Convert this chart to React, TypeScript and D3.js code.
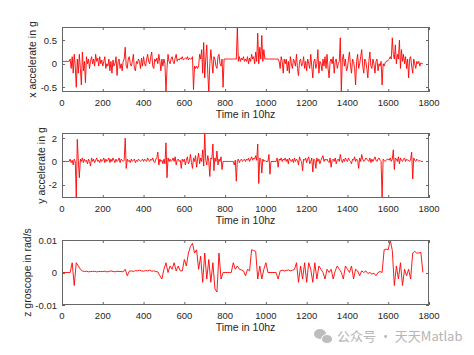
import React from "react";
import * as d3 from "d3";

const xTicks = [0, 200, 400, 600, 800, 1000, 1200, 1400, 1600, 1800];

// x acceleration, sampled every 5 time units from 0
const xAccel = [
  0.05, 0.05, 0.05, 0.05, 0.05, 0.05, 0.05, 0.05, 0.1, -0.1, 0.15, -0.2, 0.2, -0.05, -0.5, 0.1, -0.2, 0.2, -0.1, -0.45,
  0.25, -0.15, 0.05, -0.4, 0.15, 0.0, 0.1, -0.1, 0.05, 0.15, 0.0, 0.1, -0.05, 0.2, 0.05, 0.12, -0.05, 0.15, 0.0, 0.08,
  -0.05, 0.05, 0.15, -0.1, 0.0, -0.05, 0.1, -0.15, 0.05, -0.2, 0.08, -0.05, 0.0, 0.15, -0.25, 0.05, 0.1, -0.1, 0.0, -0.15,
  0.05, 0.1, 0.35, -0.05, -0.1, 0.1, 0.15, 0.0, -0.05, 0.05, 0.2, -0.1, -0.15, 0.05, 0.0, 0.1, 0.05, -0.1, 0.12, -0.05,
  0.15, 0.0, -0.05, 0.1, 0.2, 0.05, 0.0, 0.15, 0.25, -0.05, -0.1, 0.1, 0.05, 0.12, 0.0, 0.2, 0.05, -0.15, 0.1, -0.05,
  0.1, 0.0, -0.6, -0.1, 0.2, 0.05, 0.0, 0.1, 0.15, 0.05, 0.0, 0.12, 0.2, 0.05, 0.1, 0.08, 0.12, 0.1, 0.15, 0.08,
  0.1, 0.12, 0.1, 0.15, 0.08, 0.12, 0.1, 0.1, 0.15, -0.55, -0.05, -0.1, -0.05, -0.1, -0.05, 0.2, 0.1, 0.3, -0.2, 0.45,
  -0.3, 0.1, 0.4, -0.2, -0.6, 0.0, 0.3, 0.05, -0.2, 0.15, 0.1, -0.05, -0.1, 0.15, 0.2, 0.0, -0.05, 0.1, -0.5, 0.1,
  0.1, 0.1, 0.1, 0.1, 0.1, 0.1, 0.1, 0.1, 0.1, 0.1, 0.1, 0.1, 0.8, 0.05, 0.15, 0.05, 0.12, 0.08, 0.15, 0.05,
  0.1, 0.05, 0.15, 0.0, 0.12, 0.05, 0.2, 0.1, 0.15, 0.0, 0.25, 0.05, 0.65, 0.0, 0.35, 0.1, 0.6, 0.05, 0.3, 0.1,
  0.1, 0.1, 0.1, 0.1, 0.1, 0.1, 0.1, 0.1, 0.1, 0.1, 0.1, 0.1, 0.1, 0.05, -0.1, 0.15, 0.05, -0.2, 0.1, 0.0,
  0.1, -0.15, 0.05, -0.2, 0.15, 0.0, -0.1, 0.1, 0.05, -0.05, 0.2, -0.1, -0.25, 0.05, 0.1, -0.05, 0.0, 0.15, -0.1, 0.05,
  -0.15, 0.1, 0.0, -0.1, 0.2, -0.05, -0.3, 0.05, 0.1, -0.1, 0.0, 0.3, -0.2, 0.05, 0.0, -0.15, 0.1, -0.05, 0.15, -0.1,
  0.2, -0.1, -0.3, 0.05, 0.1, 0.0, 0.15, -0.2, 0.05, 0.1, -0.1, 0.0, 0.05, 0.55, -0.6, 0.1, 0.2, -0.05, 0.1, -0.15,
  -0.1, 0.1, 0.25, -0.05, -0.2, 0.1, 0.05, -0.1, -0.45, 0.05, 0.2, -0.1, 0.0, 0.15, 0.3, -0.05, -0.2, 0.1, 0.05, -0.1,
  -0.3, 0.05, 0.25, -0.05, -0.1, 0.1, 0.0, -0.2, 0.05, 0.1, -0.15, 0.0, -0.05, 0.05, -0.45, 0.0, -0.05, 0.02, 0.05, 0.05,
  0.08, 0.1, 0.15, 0.1, 0.55, 0.2, 0.1, 0.4, 0.0, 0.2, 0.1, 0.5, -0.1, 0.3, 0.05, 0.2, 0.0, 0.15, -0.1, 0.1,
  -0.3, 0.1, 0.15, -0.05, -0.2, 0.1, 0.0, -0.1, 0.05, 0.0, 0.05, -0.05, 0.02, 0.0, 0.0,
];

// y acceleration, sampled every 5 time units from 0
const yAccel = [
  0, 0, 0, 0, 0, 0, 0, 0, 0.2, -0.1, 0.1, -0.3, 0.2, 0.0, -3.1, 1.9, 0.1, -1.4, 0.2, 0.0,
  0.3, -0.1, 0.2, 0.0, 0.1, -0.2, 0.2, 0.0, -0.4, 0.3, 0.0, 0.2, -0.1, 0.1, 0.3, 0.0, 0.1, -0.1, 0.2, 0.0,
  0.1, 0.3, -0.1, 0.2, 0.0, 0.1, 0.3, -0.1, 0.2, 0.0, 0.3, 0.1, -0.1, 0.2, 0.0, 0.1, 0.3, -0.1, 0.2, 0.1,
  0.0, 0.1, 2.0, -0.6, 0.2, 0.0, 0.1, -0.1, 0.2, 0.0, 0.1, 0.2, -0.1, 0.1, 0.0, 0.2, 0.1, 0.0, 0.1, 0.2,
  0.0, 0.2, 0.1, 0.0, 0.3, 0.1, 0.0, 0.2, 0.1, 0.3, 0.0, -0.1, 0.2, 0.3, 0.8, -0.3, 0.2, 0.0, 0.1, -0.2,
  0.2, -0.2, 1.6, -1.4, 0.3, 0.0, 0.2, 0.0, 0.1, 0.3, 0.0, 0.4, -0.3, 0.1, 0.2, 0.0, 0.1, -0.6, 0.2, 0.0,
  0.2, -0.3, 0.1, 0.4, -0.2, 0.0, 0.6, -0.1, -0.6, 0.3, 0.0, 0.5, -0.5, 0.2, 0.7, -0.2, 0.3, 0.0, 1.0, -0.4,
  2.4, 0.1, -0.3, 0.5, 0.0, -1.3, 0.3, 0.2, 1.5, -0.8, 0.3, 0.0, 0.9, -0.3, 0.2, 0.0, 0.4, -0.7, 0.0, 0.0,
  0, 0, 0, 0, 0, 0, 0, 0, 0, -0.3, 0.1, -1.7, 0.1, 0.2, -0.1, 0.1, 0.2, 0.0, 0.1, 0.2,
  0.0, 0.2, 0.1, 0.3, 0.0, 0.2, 0.4, 0.1, 0.3, 0.2, 0.5, 0.1, 1.5, -1.9, 0.3, 0.2, -1.0, 0.2, 0.0, 0.1,
  0.0, 0.0, 0.0, 0.6, -1.1, 0.0, 0.0, 0.0, 0.0, 0.0, 0.0, 0.3, -0.5, 0.2, 0.1, 0.3, 0.0, 0.2, 0.1, 0.3,
  0.0, 0.2, -0.2, 0.3, 0.1, 0.0, 0.2, -0.1, 0.3, 0.0, 0.2, 0.1, -0.3, 0.4, 0.1, 0.0, -0.8, 0.2, 0.1, 0.3,
  -0.1, 0.2, 0.4, -0.2, 0.0, 0.3, -0.9, 0.2, 0.1, -0.6, 0.3, 0.0, 0.2, -0.2, 0.1, 0.3, 0.5, 0.0, 0.2, 0.1,
  0.2, 0.0, -0.1, 0.3, -0.5, 0.1, 0.2, 0.0, 0.3, -0.2, 0.1, 0.2, 0.0, 0.6, 0.1, -0.1, 0.2, 0.0, 0.3, 0.1,
  0.0, 0.3, 0.1, 0.0, -0.2, 0.2, 0.1, 0.4, 0.0, 0.2, 0.1, -0.6, 0.3, 0.0, 0.6, 0.2, 0.0, 0.1, 0.3, 0.2,
  0.1, 0.0, 0.3, -0.1, 0.2, 0.0, 0.2, 0.4, 0.1, 0.0, 0.2, 0.3, 0.1, 0.0, -3.1, 0.2, 0.1, 0.0, 0.1, 0.2,
  0.2, 0.1, 0.3, 0.0, 0.2, 1.0, -0.7, 0.3, 0.2, 0.0, 0.4, -0.2, 0.3, 0.1, 0.0, 0.2, 0.3, 0.0, 0.2, 0.1,
  0.1, 0.0, 0.2, 0.8, -1.5, 0.3, 0.1, 0.0, 0.2, 0.1, 0.0, 0.1, 0.0, 0.0, 0.0,
];

// z gyroscope, sampled every 10 time units from 0
const zGyro = [
  0, 0, 0, 0, 0, 0.003, -0.004, 0.003, 0.002, 0.001,
  0.0005, 0.0003, 0.0004, 0.0002, 0.0003, 0.0003, 0.0004, 0.0002, 0.0003, 0.0003,
  0.0003, 0.0004, 0.0002, 0.0003, 0.0005, 0.0003, 0.0002, 0.0004, 0.0003, 0.0003,
  0.0002, 0.001, -0.001, 0.0004, 0.0005, 0.0003, 0.0006, 0.0005, 0.0007, 0.0005,
  0.0004, 0.0006, 0.0005, 0.0007, 0.0004, 0.0005, 0.0003, 0.0002, -0.001, -0.002,
  0.001, 0.003, 0.0, 0.002, 0.001, 0.003, 0.0005, 0.002, 0.0005, 0.0005,
  0.004, 0.002, 0.006, 0.008, 0.009, 0.006, 0.007, 0.001, 0.005, -0.003,
  0.006, -0.002, 0.004, -0.003, 0.003, -0.005, -0.006, 0.006, -0.002, 0,
  0, 0, 0, 0, 0.003, 0.001, 0.002, 0.001, 0.0008, 0.0005,
  -0.001, 0.001, 0.0005, 0.007, 0.0068, 0.0065, -0.002, 0.002, -0.002, 0.001,
  0.003, 0, 0, 0, 0, 0, -0.002, 0.0005, 0.0007, 0.0005,
  0.0006, 0.0008, 0.0005, 0.0007, 0.0009, 0.003, -0.003, 0.002, -0.002, 0.003,
  -0.003, 0.003, 0.001, -0.003, 0.003, -0.002, 0.002, 0.001, 0.0, -0.002,
  0.001, 0.0, 0.001, -0.002, 0.0005, 0.002, 0.001, 0.0, -0.002, 0.002,
  0.001, 0.0, 0.002, -0.002, 0.001, 0.0005, -0.001, 0.0005, 0.0, 0.0005,
  -0.0003, 0.0, -0.0005, -0.0002, -0.001, 0.0, 0.0003, 0.0, 0.007, 0.0072,
  0.007, 0.011, 0.0068, -0.004, 0.002, -0.002, 0.003, -0.004, 0.001, -0.001,
  0.001, -0.002, 0.006, 0.0065, 0.006, 0.006, 0.0062, 0.0,
];

const panels = [
  { data: xAccel, step: 5, domain: [-0.6, 0.78], ticks: [-0.5, 0, 0.5], labels: ["-0.5", "0", "0.5"], ylabel: "x accelerate in g", top: 27, ylabX: 36 },
  { data: yAccel, step: 5, domain: [-3.15, 2.45], ticks: [-2, 0, 2], labels: ["-2", "0", "2"], ylabel: "y accelerate in g", top: 133, ylabX: 45 },
  { data: zGyro, step: 10, domain: [-0.01, 0.01], ticks: [-0.01, 0, 0.01], labels: ["-0.01", "0", "0.01"], ylabel: "z groscope in rad/s", top: 240, ylabX: 31 },
];

const L = 62, R = 429, H = 65;
const axisColor = "#262626";
const boxColor = "#666";
const font = "Arial, 'Liberation Sans', Helvetica, sans-serif";

function Panel({ p }: { p: typeof panels[number] }) {
  const x = d3.scaleLinear().domain([0, 1800]).range([L, R]);
  const y = d3.scaleLinear().domain(p.domain).range([p.top + H, p.top]);
  const line = d3
    .line<number>()
    .x((_, i) => x(i * p.step))
    .y((d) => y(Math.max(p.domain[0], Math.min(p.domain[1], d))));
  const bottom = p.top + H;
  return (
    <g>
      <rect x={L} y={p.top} width={R - L} height={H} fill="#fff" />
      <path d={line(p.data) || ""} fill="none" stroke="#ff0000" strokeWidth={0.9} />
      <rect x={L + 0.5} y={p.top + 0.5} width={R - L - 1} height={H - 1} fill="none" stroke={boxColor} strokeWidth={1} />
      {xTicks.map((t) => (
        <g key={t}>
          <line x1={x(t) + 0.5} x2={x(t) + 0.5} y1={bottom} y2={bottom - 3} stroke={boxColor} />
          <line x1={x(t) + 0.5} x2={x(t) + 0.5} y1={p.top} y2={p.top + 3} stroke={boxColor} />
          <text x={x(t)} y={bottom + 14} textAnchor="middle" fontSize={9.5} fill={axisColor} fontFamily={font}>
            {t}
          </text>
        </g>
      ))}
      {p.ticks.map((t, i) => (
        <g key={t}>
          <line x1={L} x2={L + 3} y1={Math.round(y(t)) + 0.5} y2={Math.round(y(t)) + 0.5} stroke={boxColor} />
          <line x1={R - 3} x2={R} y1={Math.round(y(t)) + 0.5} y2={Math.round(y(t)) + 0.5} stroke={boxColor} />
          <text x={L - 5} y={y(t) + 3.5} textAnchor="end" fontSize={9.5} fill={axisColor} fontFamily={font}>
            {p.labels[i]}
          </text>
        </g>
      ))}
      <text x={(L + R) / 2} y={bottom + 26} textAnchor="middle" fontSize={10.5} fill={axisColor} fontFamily={font}>
        Time in 10hz
      </text>
      <text
        transform={`translate(${p.ylabX},${p.top + H / 2}) rotate(-90)`}
        textAnchor="middle"
        fontSize={10.5}
        fill={axisColor}
        fontFamily={font}
      >
        {p.ylabel}
      </text>
    </g>
  );
}

export default function App() {
  return (
    <svg width={474} height={355} style={{ position: "absolute", left: 0, top: 0, background: "#fff" }}>
      <rect width={474} height={355} fill="#fff" />
      {panels.map((p, i) => (
        <Panel key={i} p={p} />
      ))}
      <g fill="#bdbdbd">
        <ellipse cx={320} cy={334} rx={6} ry={5} />
        <ellipse cx={327} cy={339} rx={5.5} ry={4.5} stroke="#fff" strokeWidth={1} />
      </g>
      <text x={337} y={341} fontSize={13} fill="#b5b5b5" fontFamily="'Noto Sans CJK SC', sans-serif">
        公众号 · 天天Matlab
      </text>
    </svg>
  );
}
